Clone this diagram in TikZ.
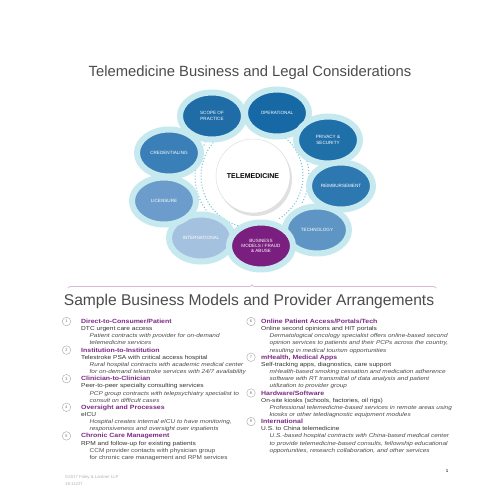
\documentclass[tikz,border=0pt]{standalone}
\usepackage{fontspec}
\setmainfont{Liberation Sans}
\newfontfamily\widefont[FakeStretch=1.15]{Liberation Sans}
\usetikzlibrary{shapes.geometric,decorations.pathreplacing}

\definecolor{ringcyan}{HTML}{C6E8EF}
\definecolor{dotteal}{HTML}{6FC0CF}
\definecolor{hdpurple}{HTML}{7B2A85}
\definecolor{bizpurple}{HTML}{7A1F7F}
\definecolor{bracepink}{HTML}{D9B8D8}
\definecolor{scopeblue}{HTML}{1F6CA7}
\definecolor{operblue}{HTML}{1769A6}
\definecolor{privblue}{HTML}{1F6FA9}
\definecolor{reimblue}{HTML}{2E78B1}
\definecolor{techblue}{HTML}{5E95C5}
\definecolor{intlblue}{HTML}{A4C2DF}
\definecolor{licblue}{HTML}{6C9CCB}
\definecolor{credblue}{HTML}{3A7FB7}

\tikzset{
  topic/.style={ellipse, minimum width=64pt, minimum height=47pt, inner sep=0pt,
    draw=ringcyan, line width=6pt, text=white, align=center,
    font=\fontsize{4.6}{5.4}\selectfont},
  line/.style={anchor=base west, inner sep=0pt},
  hd/.style={line, text=hdpurple, font=\widefont\fontsize{6.05}{7}\selectfont\bfseries},
  sub/.style={line, text=black!80, font=\widefont\fontsize{5.75}{7}\selectfont},
  det/.style={line, xshift=8.5pt, text=black!70, font=\widefont\fontsize{5.6}{7}\selectfont\itshape},
  detu/.style={line, xshift=8.5pt, text=black!70, font=\widefont\fontsize{5.6}{7}\selectfont},
  num/.style={circle, draw=black!35, line width=0.4pt, minimum size=8.5pt, inner sep=0pt,
    text=black!60, font=\fontsize{3.8}{4}\selectfont}
}

\begin{document}
\begin{tikzpicture}[x=1pt,y=-1pt]
\useasboundingbox (0,0) rectangle (495,495);
\fill[white] (0,0) rectangle (495,495);

\node[text=black!70, font=\fontsize{14.8}{17}\selectfont] (title) at (250,73) {Telemedicine Business and Legal Considerations};

% dotted rings round the centre
\draw[dotteal, dotted, line width=1pt] (253,176) ++(100:52) arc[start angle=100, end angle=250, radius=52];
\draw[dotteal, dotted, line width=1pt] (253,176) ++(120:58) arc[start angle=120, end angle=215, radius=58];
\draw[dotteal, dotted, line width=1pt] (253,176) ++(-70:50) arc[start angle=-70, end angle=60, radius=50];
\draw[dotteal, dotted, line width=1pt] (253,176) ++(-40:56) arc[start angle=-40, end angle=30, radius=56];

% topic circles
\node[topic, fill=intlblue] (intl) at (201,238) {INTERNATIONAL};
\node[topic, fill=licblue] (lic) at (164,201) {LICENSURE};
\node[topic, fill=credblue] (cred) at (169,153) {CREDENTIALING};
\node[topic, fill=scopeblue] (scope) at (212,116) {SCOPE OF\\PRACTICE};
\node[topic, fill=operblue] (oper) at (277,113) {OPERATIONAL};
\node[topic, fill=privblue] (priv) at (328,140) {PRIVACY \&\\SECURITY};
\node[topic, fill=reimblue] (reim) at (341,186) {REIMBURSEMENT};
\node[topic, fill=techblue] (tech) at (317,230) {TECHNOLOGY};
\node[topic, fill=bizpurple] (biz) at (261,246) {BUSINESS\\MODELS / FRAUD\\\& ABUSE};

% centre disc
\fill[black!12] (255,179) circle (37);
\node[circle, fill=white, draw=black!15, line width=0.4pt, minimum size=74pt, inner sep=0pt,
  font=\fontsize{7}{8}\selectfont\bfseries] (tele) at (253,176) {TELEMEDICINE};

% separator
\draw[bracepink, line width=0.8pt, decorate, decoration={brace, amplitude=3pt}] (68,288) -- (436,288);

\node[text=black!70, font=\fontsize{15.6}{18}\selectfont] (models) at (249,301) {Sample Business Models and Provider Arrangements};

% left column
\foreach \s/\t [count=\i from 0] in {
  hd/{Direct-to-Consumer/Patient}, sub/{DTC urgent care access},
  det/{Patient contracts with provider for on-demand}, det/{telemedicine services},
  hd/{Institution-to-Institution}, sub/{Telestroke PSA with critical access hospital},
  det/{Rural hospital contracts with academic medical center},
  det/{for on-demand telestroke services with 24/7 availability},
  hd/{Clinician-to-Clinician}, sub/{Peer-to-peer specialty consulting services},
  det/{PCP group contracts with telepsychiatry specialist to}, det/{consult on difficult cases},
  hd/{Oversight and Processes}, sub/{eICU},
  det/{Hospital creates internal eICU to have monitoring,},
  det/{responsiveness and oversight over inpatients},
  hd/{Chronic Care Management}, sub/{RPM and follow-up for existing patients},
  detu/{CCM provider contacts with physician group},
  detu/{for chronic care management and RPM services}}
  \node[\s] (l\i) at (81,323.5+7.15*\i) {\t};

\foreach \n/\k in {1/0,2/4,3/8,4/12,5/16}
  \node[num] (n\n) at (66.5,321.5+7.15*\k) {\n};

% right column
\foreach \s/\t [count=\i from 0] in {
  hd/{Online Patient Access/Portals/Tech}, sub/{Online second opinions and HIT portals},
  det/{Dermatological oncology specialist offers online-based second},
  det/{opinion services to patients and their PCPs across the country,},
  det/{resulting in medical tourism opportunities},
  hd/{mHealth, Medical Apps}, sub/{Self-tracking apps, diagnostics, care support},
  det/{mHealth-based smoking cessation and medication adherence},
  det/{software with RT transmittal of data analysis and patient},
  det/{utilization to provider group},
  hd/{Hardware/Software}, sub/{On-site kiosks (schools, factories, oil rigs)},
  det/{Professional telemedicine-based services in remote areas using},
  det/{kiosks or other telediagnostic equipment modules},
  hd/{International}, sub/{U.S. to China telemedicine},
  det/{U.S.-based hospital contracts with China-based medical center},
  det/{to provide telemedicine-based consults, fellowship educational},
  det/{opportunities, research collaboration, and other services}}
  \node[\s] (r\i) at (261,323.5+7.15*\i) {\t};

\foreach \n/\k in {6/0,7/5,8/10,9/14}
  \node[num] (n\n) at (251,321.5+7.15*\k) {\n};

\node[font=\fontsize{4.5}{5}\selectfont] (page) at (447,471) {1};
\node[line, text=black!30, font=\fontsize{4.3}{5}\selectfont] (foot1) at (65,478.5) {©2017 Foley \& Lardner LLP};
\node[line, text=black!30, font=\fontsize{4.3}{5}\selectfont] (foot2) at (65,485.5) {19.11227};
\end{tikzpicture}
\end{document}
